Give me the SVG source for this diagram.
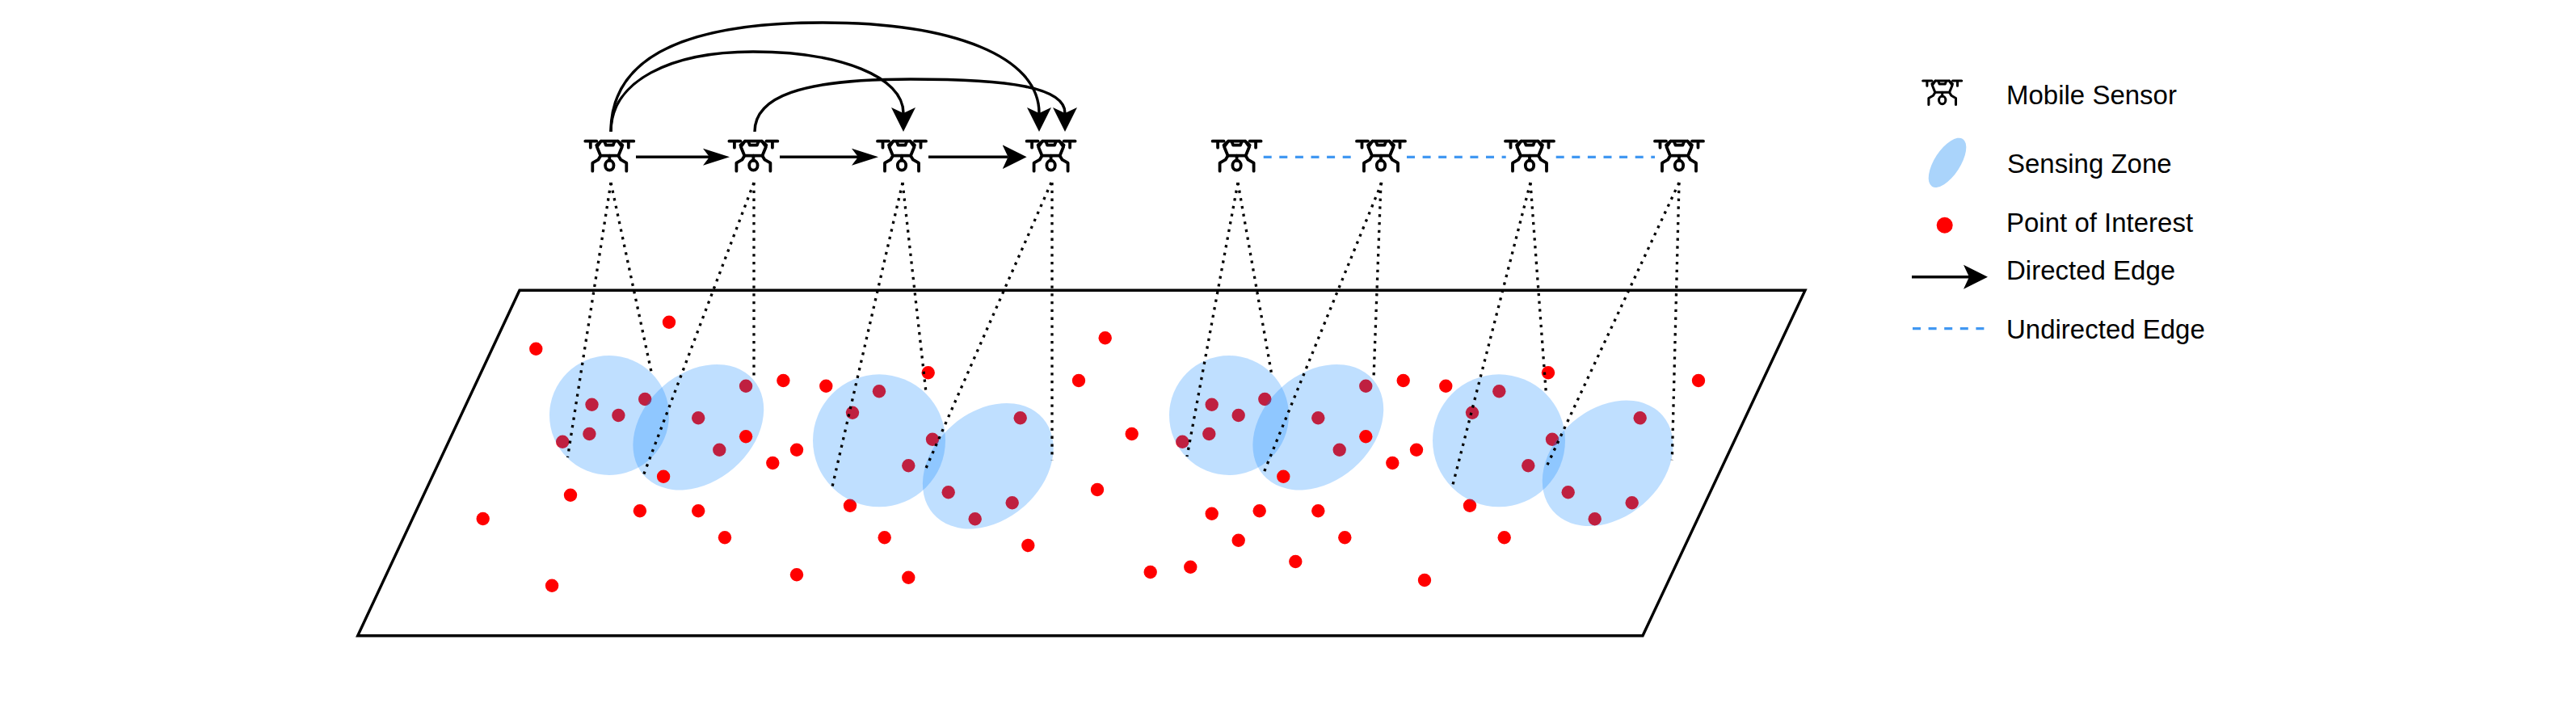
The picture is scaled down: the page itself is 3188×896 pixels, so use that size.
<svg xmlns="http://www.w3.org/2000/svg" width="3188" height="896" viewBox="0 0 3188 896">
<style>
.lbl{font-family:"Liberation Sans",Arial,sans-serif;font-size:33px;fill:#000}
.edge{fill:none;stroke:#000;stroke-width:3.4}
.dot{fill:none;stroke:#000;stroke-width:3.3;stroke-dasharray:3.3 6.5}
.und{fill:none;stroke:#4198f2;stroke-width:3.2;stroke-dasharray:10 9.6}
.zone{fill:#007fff;fill-opacity:.25}
.poi{fill:#f00}
.d{fill:none;stroke:#000;stroke-width:3.8;stroke-linecap:round;stroke-linejoin:round}
</style>
<defs>
<marker id="hs" markerUnits="userSpaceOnUse" markerWidth="34" markerHeight="24" refX="8" refY="12" orient="auto"><path d="M0,1.5 L33,12 L0,22.5 L8,12 Z" fill="#000"/></marker>
<marker id="hl" markerUnits="userSpaceOnUse" markerWidth="32" markerHeight="32" refX="7" refY="16" orient="auto"><path d="M0,1 L30,16 L0,31 L7,16 Z" fill="#000"/></marker>
<g id="drone" class="d">
<path d="M-30,2 H-16 M-23.5,2 V10 M30,2 H16 M23.5,2 V10"/>
<path d="M-16,7 L-10.5,2 H10.5 L16,7 M-15.5,9 L-11,20 H11 L15.5,9 M-10.5,2 L-15.5,9 M10.5,2 L15.5,9"/>
<path d="M-6,3 L-4.5,7 H4.5 L6,3"/>
<path d="M-11,20 L-14,25 L-21,29 V39 M11,20 L14,25 L21,29 V39"/>
<path d="M0,20 V26"/>
<ellipse cx="0" cy="32" rx="5.2" ry="6"/>
</g>
</defs>
<rect width="3188" height="896" fill="#fff"/>
<g id="plane"><path d="M643,359.3 H2234 L2033,786.7 H442.7 Z" fill="#fff" stroke="#000" stroke-width="3.4"/></g>
<g id="pois" class="poi">
<circle cx="828" cy="398.7" r="8.2"/><circle cx="663.3" cy="431.7" r="8.2"/><circle cx="732.5" cy="500.7" r="8.2"/><circle cx="765.4" cy="514" r="8.2"/><circle cx="798.2" cy="494" r="8.2"/><circle cx="729.4" cy="537" r="8.2"/><circle cx="696.2" cy="546.7" r="8.2"/><circle cx="864.2" cy="517.3" r="8.2"/><circle cx="923.1" cy="477.7" r="8.2"/><circle cx="890.3" cy="556.7" r="8.2"/><circle cx="969.4" cy="471" r="8.2"/><circle cx="1022.3" cy="477.7" r="8.2"/><circle cx="986" cy="556.7" r="8.2"/><circle cx="956.3" cy="573" r="8.2"/><circle cx="706" cy="612.7" r="8.2"/><circle cx="791.9" cy="632.3" r="8.2"/><circle cx="864.2" cy="632.3" r="8.2"/><circle cx="897" cy="665.3" r="8.2"/><circle cx="597.7" cy="642" r="8.2"/><circle cx="683.1" cy="724.7" r="8.2"/><circle cx="986" cy="711.3" r="8.2"/>
<circle cx="1088" cy="484.3" r="8.2"/><circle cx="1148.7" cy="461.3" r="8.2"/><circle cx="1055" cy="510.7" r="8.2"/><circle cx="1154" cy="543.7" r="8.2"/><circle cx="1124.3" cy="576.3" r="8.2"/><circle cx="1052" cy="625.7" r="8.2"/><circle cx="1094.7" cy="665.3" r="8.2"/><circle cx="1124.3" cy="714.7" r="8.2"/><circle cx="1173.7" cy="609.3" r="8.2"/><circle cx="1206.7" cy="642.3" r="8.2"/><circle cx="1252.7" cy="622.3" r="8.2"/><circle cx="1262.7" cy="517.3" r="8.2"/><circle cx="1272.3" cy="675" r="8.2"/><circle cx="1367.7" cy="418.3" r="8.2"/><circle cx="1335" cy="471" r="8.2"/><circle cx="1400.7" cy="537" r="8.2"/><circle cx="1358" cy="606" r="8.2"/><circle cx="1423.7" cy="708" r="8.2"/><circle cx="1473.3" cy="701.7" r="8.2"/>
<circle cx="1499.7" cy="500.7" r="8.2"/><circle cx="1532.7" cy="514" r="8.2"/><circle cx="1565.3" cy="494" r="8.2"/><circle cx="1496.3" cy="537" r="8.2"/><circle cx="1463.3" cy="546.7" r="8.2"/><circle cx="1631.3" cy="517.3" r="8.2"/><circle cx="1690.3" cy="477.7" r="8.2"/><circle cx="1657.7" cy="556.7" r="8.2"/><circle cx="1736.7" cy="471" r="8.2"/><circle cx="1789.3" cy="477.7" r="8.2"/><circle cx="1753" cy="556.7" r="8.2"/><circle cx="1723.3" cy="573" r="8.2"/><circle cx="1499.7" cy="635.7" r="8.2"/><circle cx="1558.7" cy="632.3" r="8.2"/><circle cx="1631.3" cy="632.3" r="8.2"/><circle cx="1532.7" cy="668.7" r="8.2"/><circle cx="1664.3" cy="665.3" r="8.2"/><circle cx="1603.3" cy="695" r="8.2"/><circle cx="1763" cy="718" r="8.2"/>
<circle cx="1855.3" cy="484.3" r="8.2"/><circle cx="1822" cy="510.7" r="8.2"/><circle cx="1916" cy="461.3" r="8.2"/><circle cx="1921" cy="543.7" r="8.2"/><circle cx="1891.3" cy="576.3" r="8.2"/><circle cx="1819" cy="625.7" r="8.2"/><circle cx="1861.7" cy="665.3" r="8.2"/><circle cx="1940.7" cy="609.3" r="8.2"/><circle cx="1973.7" cy="642.3" r="8.2"/><circle cx="2019.7" cy="622.3" r="8.2"/><circle cx="2029.7" cy="517.3" r="8.2"/><circle cx="2102" cy="471" r="8.2"/>
</g>
<g id="zones" class="zone">
<circle cx="754" cy="514" r="74"/>
<ellipse cx="864.3" cy="528.7" rx="90" ry="67" transform="rotate(-41 864.3 528.7)"/>
<circle cx="1088" cy="545.3" r="82"/>
<ellipse cx="1222.8" cy="576.7" rx="90" ry="67" transform="rotate(-41 1222.8 576.7)"/>
<circle cx="1521" cy="514" r="74"/>
<ellipse cx="1631.3" cy="528.7" rx="90" ry="67" transform="rotate(-41 1631.3 528.7)"/>
<circle cx="1855" cy="545.3" r="82"/>
<ellipse cx="1989.7" cy="573.3" rx="90" ry="67" transform="rotate(-41 1989.7 573.3)"/>
</g>
<g id="pois-top" class="poi">
<circle cx="923.1" cy="540.3" r="8.2"/><circle cx="821.1" cy="589.7" r="8.2"/><circle cx="1690.3" cy="540.3" r="8.2"/><circle cx="1588.3" cy="589.7" r="8.2"/>
</g>
<g id="connectors">
<g id="projections" class="dot">
<path d="M756,226 L702.5,566"/><path d="M756,226 L806,460"/><path d="M933,226 L796.6,587.3"/><path d="M933,226 V468"/>
<path d="M1117,226 L1030,602.3"/><path d="M1117,226 L1146,485.7"/><path d="M1301,226 L1145.7,580"/><path d="M1302,226 V569.3"/>
<path d="M1532,226 L1469,565"/><path d="M1532,226 L1573.3,460.7"/><path d="M1710,226 L1564.3,584.3"/><path d="M1709,226 L1700,468"/>
<path d="M1894,226 L1797.7,601"/><path d="M1894,226 L1913.3,485.7"/><path d="M2078,226 L1914.3,576.7"/><path d="M2078,226 L2069.3,569.3"/>
</g>
<g id="directed" class="edge">
<path d="M787,194.3 H878" marker-end="url(#hs)"/>
<path d="M965,194.3 H1062" marker-end="url(#hs)"/>
<path d="M1149,194.3 H1247.6" marker-end="url(#hl)"/>
<path d="M756,163 C756,100 830,64 932,64 C1040,64 1118,95 1118,140" marker-end="url(#hl)"/>
<path d="M756,163 C756,80 830,28 1018,28 C1180,28 1286,70 1286,140" marker-end="url(#hl)"/>
<path d="M934,163 C934,120 990,98 1127,98 C1250,98 1318,108 1318,140" marker-end="url(#hl)"/>
</g>
<g id="undirected" class="und">
<path d="M1563.7,194.3 H1672.7"/><path d="M1741,194.3 H1863.7"/><path d="M1925.7,194.3 H2048"/>
</g>
</g>
<g id="sensor-1"><use href="#drone" x="754.3" y="172.7"/></g>
<g id="sensor-2"><use href="#drone" x="932.4" y="172.7"/></g>
<g id="sensor-3"><use href="#drone" x="1116" y="172.7"/></g>
<g id="sensor-4"><use href="#drone" x="1300.6" y="172.7"/></g>
<g id="sensor-5"><use href="#drone" x="1530.6" y="172.7"/></g>
<g id="sensor-6"><use href="#drone" x="1709" y="172.7"/></g>
<g id="sensor-7"><use href="#drone" x="1893" y="172.7"/></g>
<g id="sensor-8"><use href="#drone" x="2078" y="172.7"/></g>
<g id="legend">
<g id="legend-sensor"><use href="#drone" transform="translate(2403.7 98.3) scale(.8)"/><text class="lbl" x="2483" y="129">Mobile Sensor</text></g>
<g id="legend-zone"><ellipse cx="2410" cy="201.3" rx="35" ry="16" transform="rotate(-57 2410 201.3)" fill="#aad4fb"/><text class="lbl" x="2484" y="214">Sensing Zone</text></g>
<g id="legend-poi"><circle class="poi" cx="2406.7" cy="278.7" r="10"/><text class="lbl" x="2483" y="287">Point of Interest</text></g>
<g id="legend-directed"><path class="edge" d="M2366,342.7 H2437" marker-end="url(#hl)"/><text class="lbl" x="2483" y="346">Directed Edge</text></g>
<g id="legend-undirected"><path class="und" d="M2367,406.7 H2457"/><text class="lbl" x="2483" y="419">Undirected Edge</text></g>
</g>
</svg>
